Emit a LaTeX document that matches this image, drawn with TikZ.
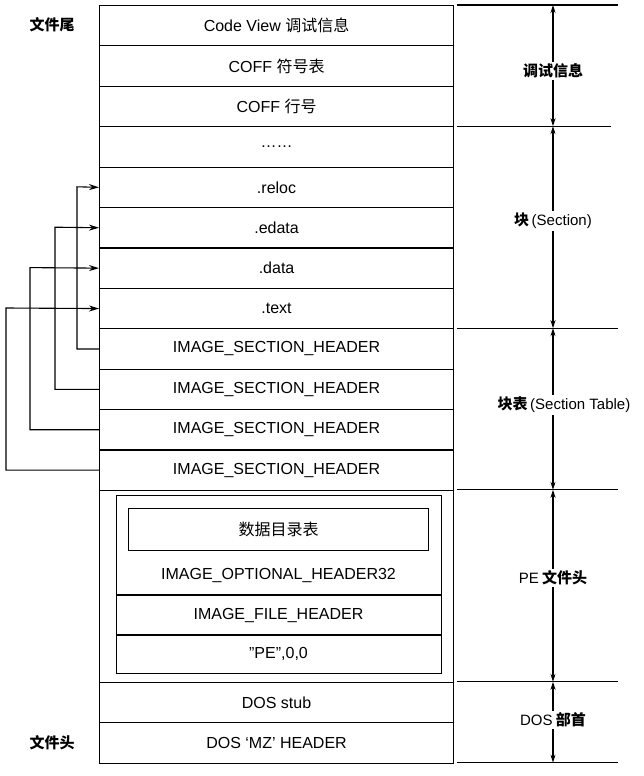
\documentclass[tikz,border=0pt]{standalone}
\usepackage{fontspec}
\setmainfont{Liberation Sans}
\newfontfamily\cjk{Noto Sans CJK SC}
\usetikzlibrary{arrows.meta}
\begin{document}
\begin{tikzpicture}[x=1pt,y=-1pt,line width=1.1pt,
  row/.style={draw,minimum width=354pt,minimum height=40.4pt,anchor=north west,inner sep=0pt,font=\fontsize{16}{18}\selectfont},
  lab/.style={font=\cjk\bfseries\fontsize{15}{17}\selectfont,fill=white,inner sep=2pt},
  dim/.style={{Stealth[length=8pt,width=5pt]}-{Stealth[length=8pt,width=5pt]}},
  ptr/.style={-{Stealth[length=10pt,width=6pt]}}]
\useasboundingbox (0,0) rectangle (644,776);
\node[row] (r1) at (99,5) {Code View {\cjk 调试信息}};
\node[row] (r2) at (99,45.4) {COFF {\cjk 符号表}};
\node[row] (r3) at (99,85.8) {COFF {\cjk 行号}};
\node[row] (r4) at (99,126.2) {……};
\node[row] (r5) at (99,166.6) {.reloc};
\node[row] (r6) at (99,207) {.edata};
\node[row] (r7) at (99,247.4) {.data};
\node[row] (r8) at (99,287.8) {.text};
\node[row] (h1) at (99,328.2) {IMAGE\_SECTION\_HEADER};
\node[row] (h2) at (99,368.6) {IMAGE\_SECTION\_HEADER};
\node[row] (h3) at (99,409) {IMAGE\_SECTION\_HEADER};
\node[row] (h4) at (99,449.4) {IMAGE\_SECTION\_HEADER};
\node[row,minimum height=192pt] (pe) at (99,489.8) {};
\node[row] (stub) at (99,681.8) {DOS stub};
\node[row] (mz) at (99,722.2) {DOS ‘MZ’ HEADER};
% inner PE
\node[draw,minimum width=325pt,minimum height=178pt,anchor=north west,inner sep=0pt] (inner) at (116,495) {};
\node[draw,minimum width=300pt,minimum height=42pt,anchor=north west,inner sep=0pt,font=\cjk\fontsize{16}{18}\selectfont] (dd) at (128,508) {数据目录表};
\node[font=\fontsize{16}{18}\selectfont] (opt) at (278.5,575) {IMAGE\_OPTIONAL\_HEADER32};
\node[font=\fontsize{16}{18}\selectfont] (fh) at (278.5,615) {IMAGE\_FILE\_HEADER};
\node[font=\fontsize{16}{18}\selectfont] (pe0) at (278.5,654) {"PE",0,0};
\draw (116,595) -- (441,595);
\draw (116,635) -- (441,635);
% side labels
\node[font=\cjk\bfseries\fontsize{15}{17}\selectfont] (tail) at (52,25) {文件尾};
\node[font=\cjk\bfseries\fontsize{15}{17}\selectfont] (head) at (52,743) {文件头};
% right rules
\coordinate (a0) at (553,5); \coordinate (a1) at (553,126.2); \coordinate (a2) at (553,328.2);
\coordinate (a3) at (553,489.8); \coordinate (a4) at (553,681.8); \coordinate (a5) at (553,762.6);
\draw (457,5) -- (618,5);
\draw (457,126.2) -- (611,126.2);
\draw (457,328.2) -- (618,328.2);
\draw (457,489.8) -- (618,489.8);
\draw (457,681.8) -- (618,681.8);
\draw (457,762.6) -- (618,762.6);
\draw[dim] (a0) -- (a1); \node[lab] (l1) at (553,71) {调试信息};
\draw[dim] (a1) -- (a2); \node[lab] (l2) at (553,221) {块{\fontspec{Liberation Sans}\mdseries\,(Section)}};
\draw[dim] (a2) -- (a3); \node[lab] (l3) at (564,405) {块表{\fontspec{Liberation Sans}\mdseries\,(Section Table)}};
\draw[dim] (a3) -- (a4); \node[lab] (l4) at (553,578) {{\fontspec{Liberation Sans}\mdseries PE} 文件头};
\draw[dim] (a4) -- (a5); \node[lab] (l5) at (553,720) {{\fontspec{Liberation Sans}\mdseries DOS} 部首};
% pointers
\draw[ptr] (h1.west) -| (77,186.8) -- (r5.west);
\draw[ptr] (h2.west) -| (55,227.2) -- (r6.west);
\draw[ptr] (h3.west) -| (30,267.6) -- (r7.west);
\draw[ptr] (h4.west) -| (6,308) -- (r8.west);
\end{tikzpicture}
\end{document}
